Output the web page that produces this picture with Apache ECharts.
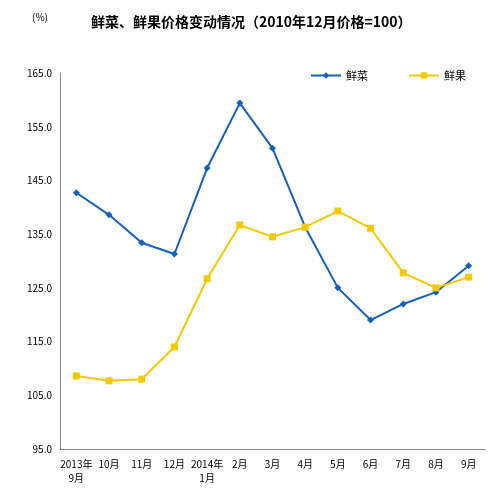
<!DOCTYPE html>
<html><head><meta charset="utf-8">
<script src="https://cdn.jsdelivr.net/npm/echarts@6/dist/echarts.min.js"></script>
<style>html,body{margin:0;padding:0;background:#fff}#c{width:503px;height:500px}</style>
</head><body><div id="c"></div>
<script>
const categories=['2013年\n9月','10月','11月','12月','2014年\n1月','2月','3月','4月','5月','6月','7月','8月','9月'];
const vegetables=[142.7,138.6,133.4,131.3,147.3,159.4,151.0,136.3,125.0,119.0,122.0,124.2,129.1];
const fruits=[108.6,107.7,108.0,114.0,126.7,136.7,134.5,136.3,139.3,136.1,127.8,125.0,127.0];
const ch=echarts.init(document.getElementById('c'));
const font='"Noto Sans CJK SC", sans-serif';
ch.setOption({
  animation:false,
  title:{text:'鲜菜、鲜果价格变动情况（2010年12月价格=100）',left:86,top:10,textStyle:{fontSize:14,fontWeight:'bold',color:'#000',fontFamily:font}},
  graphic:[{type:'text',left:32,top:12,style:{text:'(%)',fontSize:10,fill:'#000',fontFamily:font}}],
  legend:{top:65,left:305,itemGap:40,itemWidth:30,itemHeight:8,textStyle:{fontSize:11,color:'#000',fontFamily:font},data:['鲜菜','鲜果']},
  grid:{left:60,right:18,top:73,bottom:51},
  xAxis:{type:'category',data:categories,boundaryGap:true,
    axisLine:{lineStyle:{color:'#888'}},axisTick:{show:false},
    axisLabel:{color:'#000',fontSize:10,fontFamily:font,interval:0,lineHeight:14}},
  yAxis:{type:'value',min:95,max:165,interval:5,
    axisLine:{show:true,lineStyle:{color:'#888'}},axisTick:{show:false},splitLine:{show:false},
    axisLabel:{color:'#000',fontSize:10,fontFamily:font,formatter:v=>((v-95)%10===0?v.toFixed(1):'')}},
  series:[
    {name:'鲜菜',type:'line',data:vegetables,symbol:'diamond',symbolSize:7,color:'#1560BD',lineStyle:{width:2,color:'#1560BD'},itemStyle:{color:'#1560BD'}},
    {name:'鲜果',type:'line',data:fruits,symbol:'rect',symbolSize:7,color:'#F5C800',lineStyle:{width:2,color:'#F5C800'},itemStyle:{color:'#F5C800'}}
  ]
});
</script></body></html>
